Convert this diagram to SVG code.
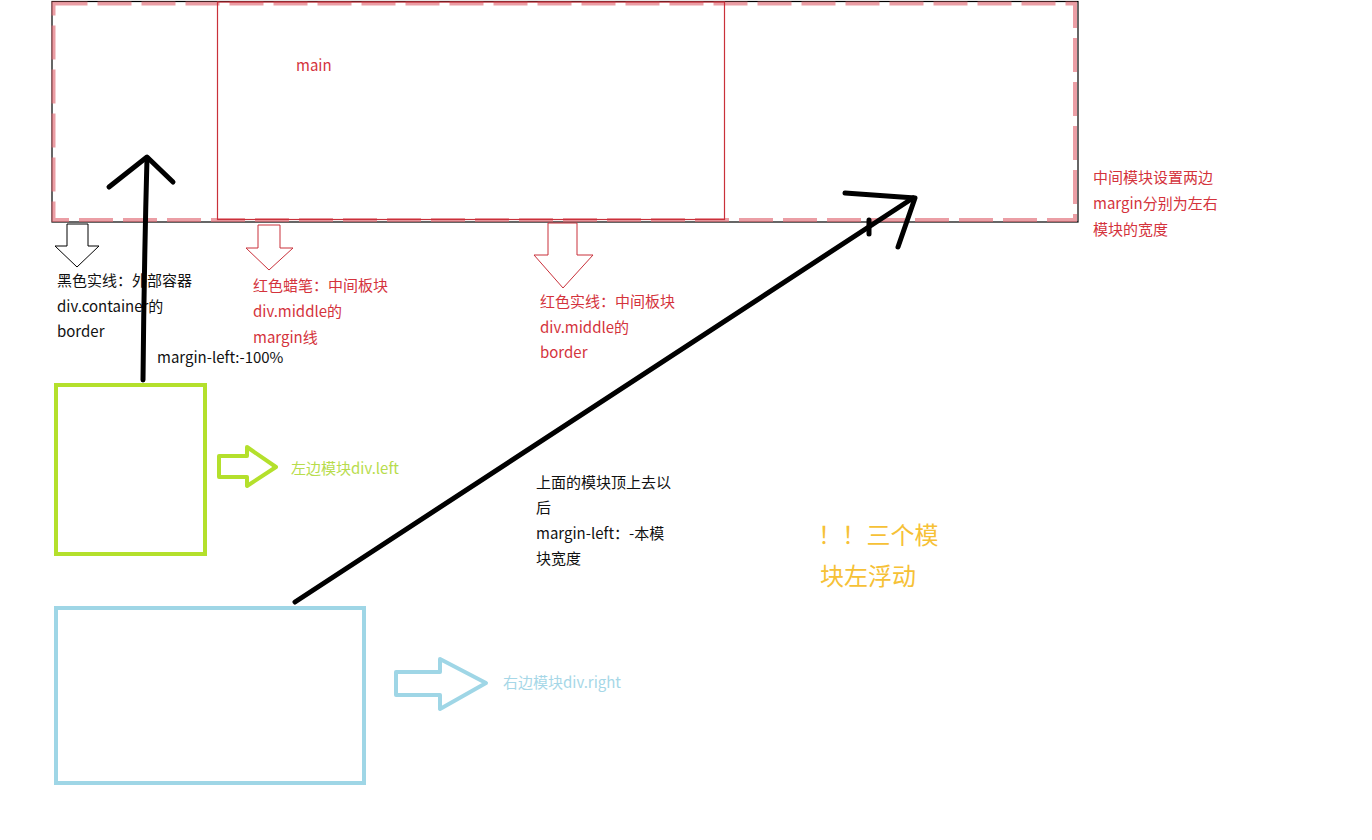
<svg xmlns="http://www.w3.org/2000/svg" width="1372" height="840" viewBox="0 0 1372 840">
<defs>
<style>
text{font-family:"Noto Sans CJK SC","Liberation Sans",sans-serif;font-size:15px}
.blk{fill:#111}
.red{fill:#d4333c}
.grn{fill:#b7dc4c}
.cyn{fill:#a6d7e7}
.org{fill:#f6c136;font-size:24px}
.pen{fill:none;stroke:#000;stroke-width:5;stroke-linecap:round;stroke-linejoin:round}
.hol{fill:#fff;stroke-width:1}
</style>
<filter id="crayon" x="-5%" y="-5%" width="110%" height="110%"><feGaussianBlur stdDeviation="0.7"/></filter>
</defs>
<rect width="1372" height="840" fill="#fff"/>
<g id="container">
<rect x="52" y="1.5" width="1026" height="220.5" fill="none" stroke="#000" stroke-width="1.2"/>
<rect x="53.5" y="3.5" width="1021.5" height="216.5" fill="none" stroke="#e06a75" stroke-opacity="0.65" stroke-width="4" stroke-dasharray="34 10" filter="url(#crayon)"/>
</g>
<g id="middle">
<rect x="217.5" y="2" width="507" height="217.5" fill="none" stroke="#c9303a" stroke-width="1.2"/>
<text class="red" x="296" y="71">main</text>
</g>
<g id="left">
<rect x="56" y="385" width="149" height="169" fill="none" stroke="#b4e02c" stroke-width="4"/>
</g>
<g id="right">
<rect x="56" y="608" width="308" height="175" fill="none" stroke="#9fd6e6" stroke-width="4"/>
</g>
<g id="label-black">
<path class="hol" stroke="#000" d="M67,224 L88,224 L88,246 L99,246 L77,267 L55,246 L67,246 Z"/>
<text class="blk" x="57" y="286">黑色实线：外部容器</text>
<text class="blk" x="57" y="312">div.container的</text>
<text class="blk" x="57" y="337">border</text>
</g>
<g id="label-margin">
<path class="hol" stroke="#c9303a" d="M258,225 L280,225 L280,248 L293,248 L269,270 L246,248 L258,248 Z"/>
<text class="red" x="253" y="291">红色蜡笔：中间板块</text>
<text class="red" x="253" y="317">div.middle的</text>
<text class="red" x="253" y="343">margin线</text>
</g>
<g id="label-border">
<path class="hol" stroke="#c9303a" d="M548,223 L577,223 L577,255 L593,255 L563,288 L534,255 L548,255 Z"/>
<text class="red" x="540" y="307">红色实线：中间板块</text>
<text class="red" x="540" y="333">div.middle的</text>
<text class="red" x="540" y="358">border</text>
</g>
<g id="label-middle-margin">
<text class="red" x="1093" y="183">中间模块设置两边</text>
<text class="red" x="1093" y="209">margin分别为左右</text>
<text class="red" x="1093" y="235">模块的宽度</text>
</g>
<g id="label-left">
<path fill="none" stroke="#b4e02c" stroke-width="4" stroke-linejoin="round" d="M219,456 L247,456 L247,447 L276,467 L247,486 L247,477 L219,477 Z"/>
<text class="grn" x="291" y="474">左边模块div.left</text>
</g>
<g id="label-right">
<path fill="none" stroke="#9fd6e6" stroke-width="4" stroke-linejoin="round" d="M396,672 L440,672 L440,659 L486,683 L440,709 L440,695 L396,695 Z"/>
<text class="cyn" x="503" y="688">右边模块div.right</text>
</g>
<g id="note-after">
<text class="blk" x="536" y="488">上面的模块顶上去以</text>
<text class="blk" x="536" y="513">后</text>
<text class="blk" x="536" y="539">margin-left：-本模</text>
<text class="blk" x="536" y="564">块宽度</text>
</g>
<g id="note-float">
<text class="org" x="818" y="544">！！ <tspan dx="-5">三个模</tspan></text>
<text class="org" x="820" y="585">块左浮动</text>
</g>
<g id="connectors">
<text class="blk" x="157" y="363">margin-left:-100%</text>
<path class="pen" d="M143,380 Q144,270 147,158"/>
<path class="pen" d="M109,187 L147,157 L173,182"/>
<path class="pen" d="M295,602 L913,198"/>
<path class="pen" d="M845,193 L915,198 L898,247"/>
<path class="pen" stroke-linecap="butt" d="M869,220 L869,234"/>
</g>
</svg>
